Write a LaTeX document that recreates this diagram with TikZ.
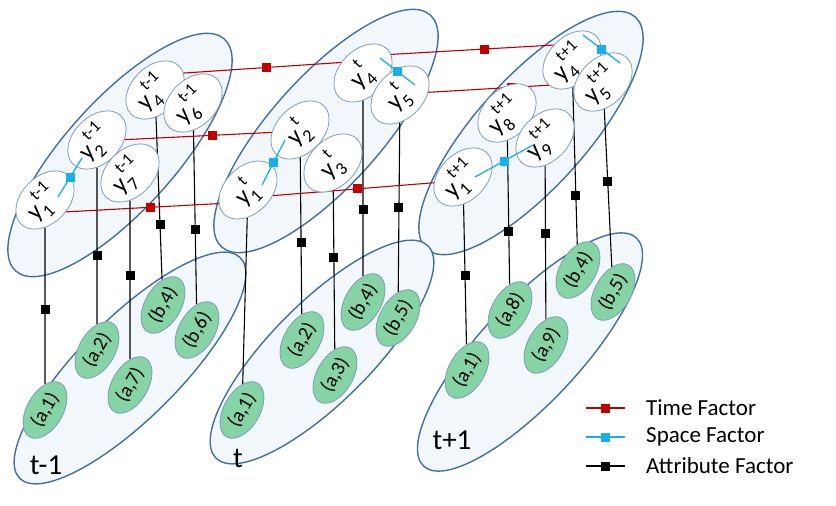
\documentclass[tikz,border=0pt]{standalone}
\usepackage{fontspec}
\setmainfont{Carlito}
\usetikzlibrary{shapes.geometric,calc}
\pgfdeclarelayer{bg}\pgfdeclarelayer{mid}
\pgfsetlayers{bg,mid,main}
\definecolor{bigfill}{HTML}{F2F7FC}
\definecolor{bigdraw}{HTML}{41719C}
\definecolor{smalldraw}{HTML}{7F9DB9}
\definecolor{greenfill}{HTML}{86D3A6}
\definecolor{tred}{HTML}{C00000}
\definecolor{sblue}{HTML}{1AAFE6}
\newcommand\yy[2]{y\rlap{\raisebox{0.6em}{\fontsize{17}{17}\selectfont\,#2}}\raisebox{-0.28em}{\fontsize{18}{18}\selectfont #1}\hphantom{\fontsize{17}{17}\selectfont\,#2}}
\tikzset{
 big/.style={ellipse,draw=bigdraw,fill=bigfill,line width=1.4pt,minimum width=312pt,minimum height=110pt,inner sep=0pt},
 ynode/.style={ellipse,draw=smalldraw,fill=white,line width=0.8pt,minimum width=68pt,minimum height=46pt,inner sep=0pt,rotate=45,font=\fontsize{25}{25}\selectfont},
 gnode/.style={ellipse,draw=smalldraw,fill=greenfill,line width=0.8pt,minimum width=62pt,minimum height=36pt,inner sep=0pt,rotate=60,font=\fontsize{20}{20}\selectfont},
 sqr/.style={fill=#1,minimum size=9pt,inner sep=0pt,rectangle},
 timel/.style={draw=tred,line width=1.1pt},
 spacel/.style={draw=sblue,line width=1.3pt},
 attl/.style={draw=black,line width=1.1pt},
 tlab/.style={font=\fontsize{29}{29}\selectfont,inner sep=0pt},
 leg/.style={font=\fontsize{23}{23}\selectfont,anchor=west,inner sep=0pt}
}
\begin{document}
\begin{tikzpicture}[x=1pt,y=1pt]
\useasboundingbox (0,0) rectangle (836,-506);
\begin{pgfonlayer}{bg}
\node[big,rotate=48] (Ta) at (120,-155) {};
\node[big,rotate=48] (Tb) at (326,-131) {};
\node[big,rotate=48] (Tc) at (531,-133) {};
\node[big,rotate=45,minimum height=100pt] (Ba) at (130,-368) {};
\node[big,rotate=45,minimum height=100pt,minimum width=300pt] (Bb) at (322,-352) {};
\node[big,rotate=47,minimum height=100pt] (Bc) at (530,-352) {};
\end{pgfonlayer}
% y nodes
\node[ynode] (a1) at (45,-200) {\yy{1}{t-1}};
\node[ynode] (a2) at (97,-140) {\yy{2}{t-1}};
\node[ynode] (a7) at (130,-173) {\yy{7}{t-1}};
\node[ynode] (a4) at (155,-90) {\yy{4}{t-1}};
\node[ynode] (a6) at (193,-103) {\yy{6}{t-1}};
\node[ynode] (b1) at (248,-190) {\yy{1}{t}};
\node[ynode] (b2) at (300,-130) {\yy{2}{t}};
\node[ynode] (b3) at (333,-163) {\yy{3}{t}};
\node[ynode] (b4) at (363,-73) {\yy{4}{t}};
\node[ynode] (b5) at (400,-95) {\yy{5}{t}};
\node[ynode] (c1) at (463,-177) {\yy{1}{t+1}};
\node[ynode] (c8) at (507,-113) {\yy{8}{t+1}};
\node[ynode] (c9) at (545,-138) {\yy{9}{t+1}};
\node[ynode] (c4) at (572,-60) {\yy{4}{t+1}};
\node[ynode] (c5) at (603,-82) {\yy{5}{t+1}};
% green nodes
\node[gnode] (ga1) at (45,-410) {(a,1)};
\node[gnode] (ga2) at (97,-350) {(a,2)};
\node[gnode] (ga7) at (130,-385) {(a,7)};
\node[gnode] (gb4) at (163,-305) {(b,4)};
\node[gnode] (gb6) at (197,-330) {(b,6)};
\node[gnode] (ha1) at (242,-410) {(a,1)};
\node[gnode] (ha2) at (302,-340) {(a,2)};
\node[gnode] (ha3) at (335,-375) {(a,3)};
\node[gnode] (hb4) at (363,-302) {(b,4)};
\node[gnode] (hb5) at (398,-318) {(b,5)};
\node[gnode] (ka1) at (467,-370) {(a,1)};
\node[gnode] (ka8) at (510,-310) {(a,8)};
\node[gnode] (ka9) at (546,-345) {(a,9)};
\node[gnode] (kb4) at (578,-270) {(b,4)};
\node[gnode] (kb5) at (613,-292) {(b,5)};
\begin{pgfonlayer}{mid}
% attribute
\draw[attl] (a1) -- node[pos=0.52,sqr=black]{} (ga1);
\draw[attl] (a2) -- node[pos=0.56,sqr=black]{} (ga2);
\draw[attl] (a7) -- node[pos=0.47,sqr=black]{} (ga7);
\draw[attl] (a4) -- node[pos=0.66,sqr=black]{} (gb4);
\draw[attl] (a6) -- node[pos=0.57,sqr=black]{} (gb6);
\draw[attl] (b1) -- (ha1);
\draw[attl] (b2) -- node[pos=0.54,sqr=black]{} (ha2);
\draw[attl] (b3) -- node[pos=0.42,sqr=black]{} (ha3);
\draw[attl] (b4) -- node[pos=0.62,sqr=black]{} (hb4);
\draw[attl] (b5) -- node[pos=0.50,sqr=black]{} (hb5);
\draw[attl] (c1) -- node[pos=0.51,sqr=black]{} (ka1);
\draw[attl] (c8) -- node[pos=0.63,sqr=black]{} (ka8);
\draw[attl] (c9) -- node[pos=0.44,sqr=black]{} (ka9);
\draw[attl] (c4) -- node[pos=0.69,sqr=black]{} (kb4);
\draw[attl] (c5) -- node[pos=0.46,sqr=black]{} (kb5);
% time
\draw[timel] ($(a4)+(0,15)$) -- node[pos=0.535,sqr=tred]{} ($(b4)+(0,12)$);
\draw[timel] ($(a2)+(0,-1)$) -- node[pos=0.57,sqr=tred]{} ($(b2)+(0,-1)$);
\draw[timel] ($(a1)+(0,-13)$) -- node[pos=0.52,sqr=tred]{} ($(b1)+(0,-12)$);
\draw[timel] ($(b1)+(0,-7.6)$) -- node[pos=0.51,sqr=tred]{} ($(c1)+(0,-3.4)$);
\draw[timel] ($(b4)+(0,17)$) -- node[pos=0.58,sqr=tred]{} ($(c4)+(0,16)$);
\draw[timel] ($(b5)+(0,1)$) -- node[pos=0.55,sqr=tred]{} ($(c5)+(0,0)$);
\end{pgfonlayer}
% space
\draw[spacel] ($(a1)+(13,3)$) -- node[sqr=sblue]{} ($(a2)+(-15,-18)$);
\draw[spacel] ($(b1)+(14,5)$) -- node[sqr=sblue]{} ($(b2)+(-15,-10)$);
\draw[spacel] ($(b4)+(17,15)$) -- node[sqr=sblue]{} ($(b5)+(15,10)$);
\draw[spacel] ($(c1)+(12,0)$) -- node[sqr=sblue]{} ($(c9)+(-12,-7)$);
\draw[spacel] ($(c4)+(11,25)$) -- node[sqr=sblue]{} ($(c5)+(17,19)$);
% time labels
\node[tlab] (l1) at (46,-465) {t-1};
\node[tlab] (l2) at (238,-458) {t};
\node[tlab] (l3) at (452,-440) {t+1};
% legend
\coordinate (la) at (586,-408); \coordinate (lb) at (625,-408);
\coordinate (lc) at (586,-437); \coordinate (ld) at (625,-437);
\coordinate (le) at (586,-466); \coordinate (lf) at (625,-466);
\draw[timel] (la) -- node[sqr=tred]{} (lb);
\draw[spacel] (lc) -- node[sqr=sblue]{} (ld);
\draw[attl] (le) -- node[sqr=black]{} (lf);
\node[leg] (t1) at (646,-408) {Time Factor};
\node[leg] (t2) at (646,-437) {Space Factor};
\node[leg] (t3) at (646,-466) {Attribute Factor};
\end{tikzpicture}
\end{document}
